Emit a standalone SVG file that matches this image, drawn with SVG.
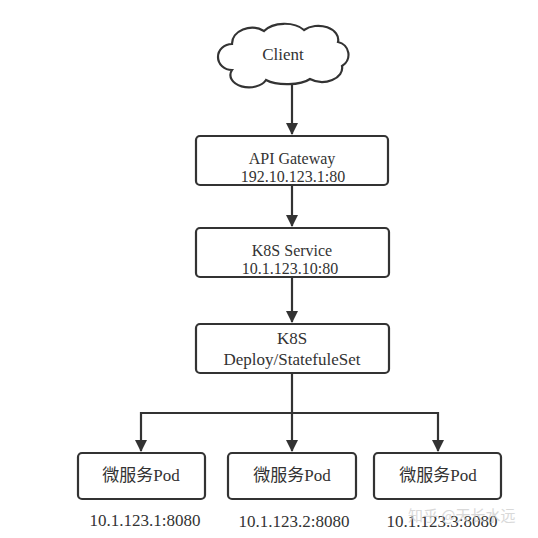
<svg xmlns="http://www.w3.org/2000/svg" width="538" height="538" viewBox="0 0 538 538">
<defs>
<marker id="arr" markerWidth="12" markerHeight="12" viewBox="0 0 12 12" refX="11" refY="6" orient="auto" markerUnits="userSpaceOnUse">
<path d="M0,0 L12,6 L0,12 Z" fill="#333"/>
</marker>
<style>
.box{fill:#fff;stroke:#333;stroke-width:2.2}
.t{font-family:"Liberation Serif","Noto Sans CJK SC",serif;font-size:17px;fill:#333;text-anchor:middle}
.s{font-size:16px}
.c{fill:none;stroke:#333;stroke-width:2.2}
.wm{font-family:"Noto Sans CJK SC",sans-serif;font-size:15px;fill:#d0d0d0;opacity:0.8}
</style>
</defs>
<rect width="538" height="538" fill="#fff"/>
<g id="client">
<path class="box" d="M232,44 A20,16 0 0 1 264,31 A24,15 0 0 1 304,30 A20,14 0 0 1 338,42 A13,13 0 0 1 342,66 A20,14 0 0 1 310,79 A26,10 0 0 1 266,80 A18,12 0 0 1 232,70 A14,13 0 0 1 232,44 Z"/>
<text class="t" x="283" y="60">Client</text>
</g>
<g id="gateway">
<rect class="box" x="196" y="136" width="192" height="49" rx="4"/>
<text class="t s" x="292" y="164">API Gateway</text>
<text class="t s" x="293" y="182">192.10.123.1:80</text>
</g>
<g id="service">
<rect class="box" x="196" y="228" width="193" height="49" rx="4"/>
<text class="t s" x="292" y="256">K8S Service</text>
<text class="t s" x="290" y="274">10.1.123.10:80</text>
</g>
<g id="deploy">
<rect class="box" x="196" y="324" width="193" height="49" rx="4"/>
<text class="t" x="292" y="344">K8S</text>
<text class="t" x="292" y="365">Deploy/StatefuleSet</text>
</g>
<g id="pod1">
<rect class="box" x="78" y="453" width="127" height="46" rx="4"/>
<text class="t" x="141" y="481">微服务Pod</text>
<text class="t" x="145" y="526">10.1.123.1:8080</text>
</g>
<g id="pod2">
<rect class="box" x="228" y="453" width="128" height="46" rx="4"/>
<text class="t" x="292" y="481">微服务Pod</text>
<text class="t" x="294" y="527">10.1.123.2:8080</text>
</g>
<g id="pod3">
<rect class="box" x="374" y="453" width="127" height="46" rx="4"/>
<text class="t" x="438" y="481">微服务Pod</text>
<text class="t" x="442" y="527">10.1.123.3:8080</text>
</g>
<g id="connectors">
<path class="c" d="M292,84 L292,134" marker-end="url(#arr)"/>
<path class="c" d="M292,185 L292,226" marker-end="url(#arr)"/>
<path class="c" d="M292,277 L292,322" marker-end="url(#arr)"/>
<path class="c" d="M292,373 L292,451" marker-end="url(#arr)"/>
<path class="c" d="M292,413 L141,413 L141,451" marker-end="url(#arr)"/>
<path class="c" d="M292,413 L438,413 L438,451" marker-end="url(#arr)"/>
</g>
<text class="wm" x="408" y="521">知乎 @天长水远</text>
</svg>
